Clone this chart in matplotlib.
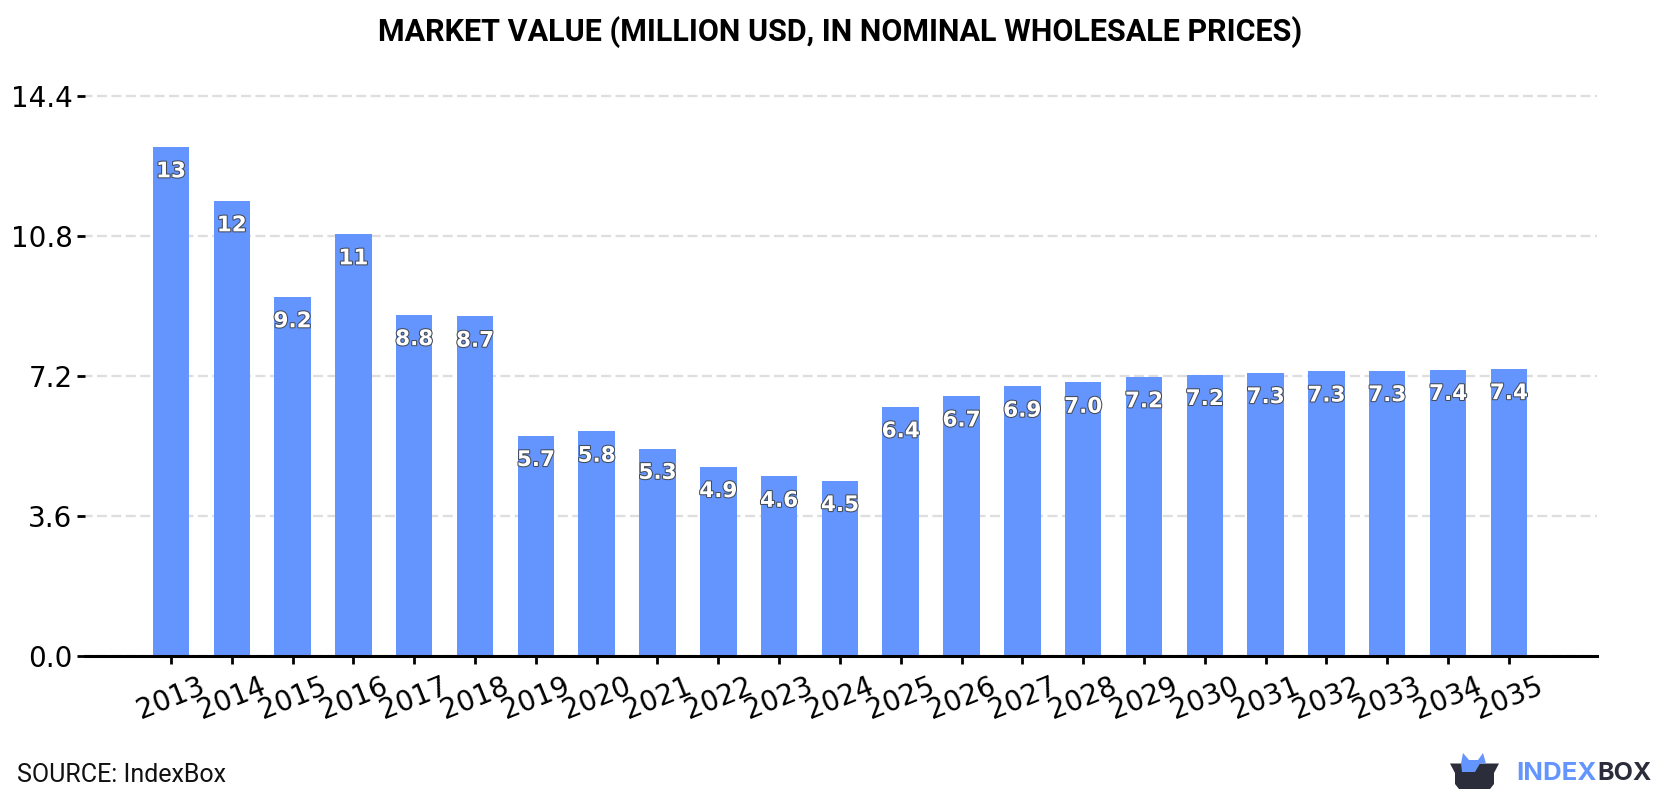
import matplotlib
matplotlib.use("Agg")
import matplotlib.pyplot as plt
import matplotlib.patheffects as pe
from matplotlib.patches import Polygon

years = list(range(2013, 2036))
values = [13.1, 11.71, 9.24, 10.86, 8.78, 8.74, 5.67, 5.78, 5.34, 4.87, 4.62, 4.51,
          6.41, 6.69, 6.94, 7.04, 7.18, 7.24, 7.29, 7.33, 7.34, 7.37, 7.39]
y_ticks = [0.0, 3.6, 7.2, 10.8, 14.4]

BLUE = "#6495ff"
DARK = "#2b2d3a"
W, H = 1680, 800


def value_label(v):
    return f"{v:.0f}" if v >= 10 else f"{v:.1f}"


fig = plt.figure(figsize=(W / 100, H / 100), dpi=100, facecolor="white")
ax = fig.add_axes([85 / W, 1 - 656 / H, (1597 - 85) / W, (656 - 96.5) / H])

ax.bar(range(len(years)), values, width=0.6, color=BLUE, zorder=3)
ax.set_xlim(-1.414, 23.45)
ax.set_ylim(0, 14.4)

ax.set_yticks(y_ticks)
ax.set_yticklabels([f"{t:.1f}" for t in y_ticks])
ax.set_xticks(range(len(years)))
ax.set_xticklabels(years, rotation=22, ha="center")
ax.tick_params(axis="y", labelsize=20, length=6, width=2, pad=3, color="black")
ax.tick_params(axis="x", labelsize=20, length=5.5, width=2, pad=6, color="black")

ax.grid(axis="y", color="#dedede", linewidth=1.7, linestyle=(1, (4.2, 1.9)), zorder=1)
for line in ax.get_ygridlines():
    line.set_clip_on(False)
ax.set_axisbelow(True)
for side in ("top", "right", "left"):
    ax.spines[side].set_visible(False)
ax.spines["bottom"].set_linewidth(2.2)
ax.spines["bottom"].set_zorder(5)

outline = [pe.withStroke(linewidth=1.5, foreground="#444a55")]
for i, v in enumerate(values):
    ax.annotate(value_label(v), (i, v), xytext=(0, -17.5), textcoords="offset points",
                ha="center", va="center", fontsize=15.5, fontweight="bold",
                color="white", path_effects=outline, zorder=6)

fig.text(0.5, 1 - 32 / H, "MARKET VALUE (MILLION USD, IN NOMINAL WHOLESALE PRICES)",
         ha="center", va="center", family="Roboto", fontweight="bold", fontsize=22, color="black")
fig.text(17 / W, 1 - 775.5 / H, "SOURCE: IndexBox", ha="left", va="center",
         family="Roboto", fontsize=18, color="#111111")

# IndexBox logo, laid out in a small overlay whose units are pixels
logo = fig.add_axes([1380 / W, 0, 300 / W, 70 / H])
logo.set_xlim(0, 300)
logo.set_ylim(70, 0)
logo.axis("off")
logo.add_patch(Polygon([(70, 33.5), (119, 33.5), (114, 43), (114, 54), (110, 59), (79, 59),
                        (75, 54), (75, 43)], closed=True, facecolor=DARK, edgecolor="none"))
logo.add_patch(Polygon([(81, 33.5), (83, 23), (89, 30), (98, 30), (103, 23), (106, 33.5),
                        (100, 33.5), (95, 42), (82, 42)], closed=True, facecolor=BLUE, edgecolor="none"))
logo.text(136.5, 44, "INDEX", ha="left", va="center", family="Inter",
          fontweight="bold", fontsize=18.6, color=BLUE)
logo.text(217, 44, "BOX", ha="left", va="center", family="Inter",
          fontweight="bold", fontsize=18, color=DARK)

fig.savefig("out.png", dpi=100, facecolor="white")
